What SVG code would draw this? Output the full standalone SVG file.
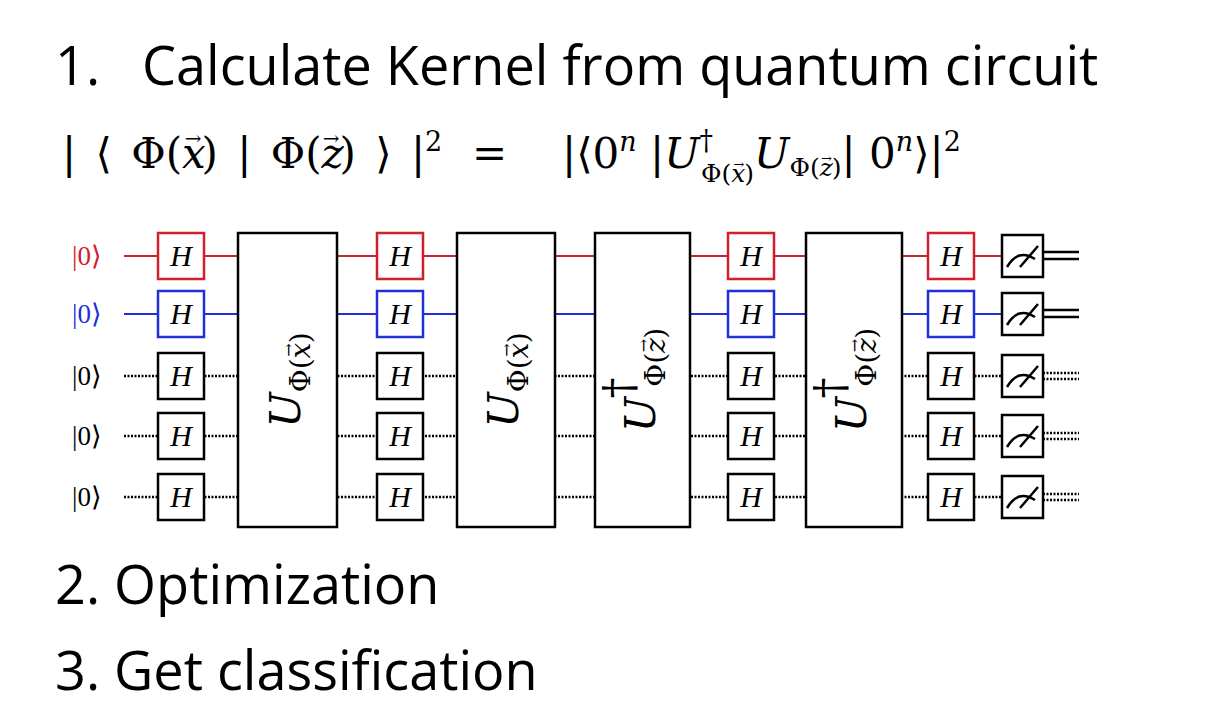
<svg xmlns="http://www.w3.org/2000/svg" width="1218" height="709" viewBox="0 0 1218 709">
<style>
.t{font-family:"Open Sans","Liberation Sans",sans-serif;font-size:54px;fill:#000}
.m{font-family:"DejaVu Serif","Liberation Serif",serif;font-size:42px;fill:#000}
.k{font-family:"Liberation Serif",serif;font-size:27px}
.h{font-family:"Liberation Serif",serif;font-style:italic;font-size:30px;text-anchor:middle}
.u{font-family:"DejaVu Serif","Liberation Serif",serif;font-size:42px;text-anchor:middle}
.i{font-style:italic}
.g{fill:#fff;stroke-width:2.5}
.r{stroke:#d0202e;stroke-width:2}
.b{stroke:#2030d8;stroke-width:2}
.d{stroke:#000;stroke-width:2.5;stroke-dasharray:2 1.5}
</style>
<rect width="1218" height="709" fill="#fff"/>
<text class="t" x="55" y="85">1.<tspan x="142">Calculate Kernel from quantum circuit</tspan></text>
<text class="m" x="62" y="168" word-spacing="6">| ⟨ Φ(<tspan class="i">x</tspan><tspan font-size="20" dx="-21" dy="-23">→</tspan><tspan dy="23">) | Φ(</tspan><tspan class="i">z</tspan><tspan font-size="20" dx="-21" dy="-23">→</tspan><tspan dy="23">) ⟩ |</tspan><tspan font-size="27" dy="-17">2</tspan></text>
<text class="m" x="472" y="168">=</text>
<text class="m" x="562" y="168">|⟨0<tspan class="i" font-size="27" dy="-17">n</tspan><tspan dy="17"> |</tspan><tspan class="i">U</tspan><tspan font-size="27" dy="-18">†</tspan><tspan font-size="25" dy="32" dx="-12">Φ(<tspan class="i">x</tspan></tspan><tspan font-size="13" dx="-12" dy="-13">→</tspan><tspan font-size="25" dy="13">)</tspan><tspan class="i" dy="-14">U</tspan><tspan font-size="25" dy="8">Φ(<tspan class="i">z</tspan></tspan><tspan font-size="13" dx="-12" dy="-13">→</tspan><tspan font-size="25" dy="13">)</tspan><tspan dy="-8">| 0</tspan><tspan class="i" font-size="27" dy="-17">n</tspan><tspan dy="17">⟩|</tspan><tspan font-size="27" dy="-17">2</tspan></text>
<text class="t" x="55" y="604">2. Optimization</text>
<text class="t" x="55" y="690">3. Get classification</text>

<g id="labels" class="k">
<text x="72" y="265" fill="#d0202e">|0⟩</text>
<text x="72" y="323" fill="#2030d8">|0⟩</text>
<text x="72" y="385">|0⟩</text>
<text x="72" y="445">|0⟩</text>
<text x="72" y="506">|0⟩</text>
</g>

<g id="wires">
<line class="r" x1="124" y1="256" x2="1002" y2="256"/>
<line class="b" x1="124" y1="314" x2="1002" y2="314"/>
<line class="d" x1="124" y1="376" x2="1002" y2="376"/>
<line class="d" x1="124" y1="436" x2="1002" y2="436"/>
<line class="d" x1="124" y1="497" x2="1002" y2="497"/>
<g stroke="#000" stroke-width="2.5">
<line x1="1043" y1="252" x2="1079" y2="252"/><line x1="1043" y1="259" x2="1079" y2="259"/>
<line x1="1043" y1="310" x2="1079" y2="310"/><line x1="1043" y1="317" x2="1079" y2="317"/>
</g>
<g class="d" stroke-width="2">
<line x1="1043" y1="373" x2="1079" y2="373"/><line x1="1043" y1="379" x2="1079" y2="379"/>
<line x1="1043" y1="433" x2="1079" y2="433"/><line x1="1043" y1="439" x2="1079" y2="439"/>
<line x1="1043" y1="494" x2="1079" y2="494"/><line x1="1043" y1="500" x2="1079" y2="500"/>
</g>
</g>

<defs>
<g id="hcol">
<rect class="g" x="0" y="-23" width="46" height="46" stroke="#d0202e"/>
<text class="h" x="23" y="10">H</text>
<rect class="g" x="0" y="35" width="46" height="46" stroke="#2030d8"/>
<text class="h" x="23" y="68">H</text>
<rect class="g" x="0" y="97" width="46" height="46" stroke="#000"/>
<text class="h" x="23" y="130">H</text>
<rect class="g" x="0" y="157" width="46" height="46" stroke="#000"/>
<text class="h" x="23" y="190">H</text>
<rect class="g" x="0" y="218" width="46" height="46" stroke="#000"/>
<text class="h" x="23" y="251">H</text>
</g>
<g id="meter">
<rect class="g" x="0" y="-21" width="41" height="42" stroke="#000"/>
<path d="M5 11 Q16 -8 33 3 M18 11 L36 -10" fill="none" stroke="#000" stroke-width="2.5"/>
</g>
</defs>

<g id="H1"><use href="#hcol" x="158" y="256"/></g>
<g id="H2"><use href="#hcol" x="377" y="256"/></g>
<g id="H3"><use href="#hcol" x="728" y="256"/></g>
<g id="H4"><use href="#hcol" x="928" y="256"/></g>

<g id="U1"><rect class="g" x="238" y="233" width="99" height="294" stroke="#000"/>
<text class="u" transform="translate(300 380) rotate(-90)"><tspan class="i">U</tspan><tspan font-size="28" dy="10">Φ(<tspan class="i">x</tspan></tspan><tspan font-size="16" dx="-14" dy="-16">→</tspan><tspan font-size="28" dy="16">)</tspan></text></g>
<g id="U2"><rect class="g" x="457" y="233" width="98" height="294" stroke="#000"/>
<text class="u" transform="translate(518 380) rotate(-90)"><tspan class="i">U</tspan><tspan font-size="28" dy="10">Φ(<tspan class="i">x</tspan></tspan><tspan font-size="16" dx="-14" dy="-16">→</tspan><tspan font-size="28" dy="16">)</tspan></text></g>
<g id="U3"><rect class="g" x="595" y="233" width="95" height="294" stroke="#000"/>
<text class="u" transform="translate(655 380) rotate(-90)"><tspan class="i">U</tspan><tspan font-size="28" dx="10" dy="10">Φ(<tspan class="i">z</tspan></tspan><tspan font-size="16" dx="-14" dy="-16">→</tspan><tspan font-size="28" dy="16">)</tspan></text>
<text class="u" font-size="28" transform="translate(633 388) rotate(-90)">†</text></g>
<g id="U4"><rect class="g" x="806" y="233" width="96" height="294" stroke="#000"/>
<text class="u" transform="translate(866 380) rotate(-90)"><tspan class="i">U</tspan><tspan font-size="28" dx="10" dy="10">Φ(<tspan class="i">z</tspan></tspan><tspan font-size="16" dx="-14" dy="-16">→</tspan><tspan font-size="28" dy="16">)</tspan></text>
<text class="u" font-size="28" transform="translate(844 388) rotate(-90)">†</text></g>

<g id="M">
<use href="#meter" x="1002" y="256"/>
<use href="#meter" x="1002" y="314"/>
<use href="#meter" x="1002" y="376"/>
<use href="#meter" x="1002" y="436"/>
<use href="#meter" x="1002" y="497"/>
</g>
</svg>
